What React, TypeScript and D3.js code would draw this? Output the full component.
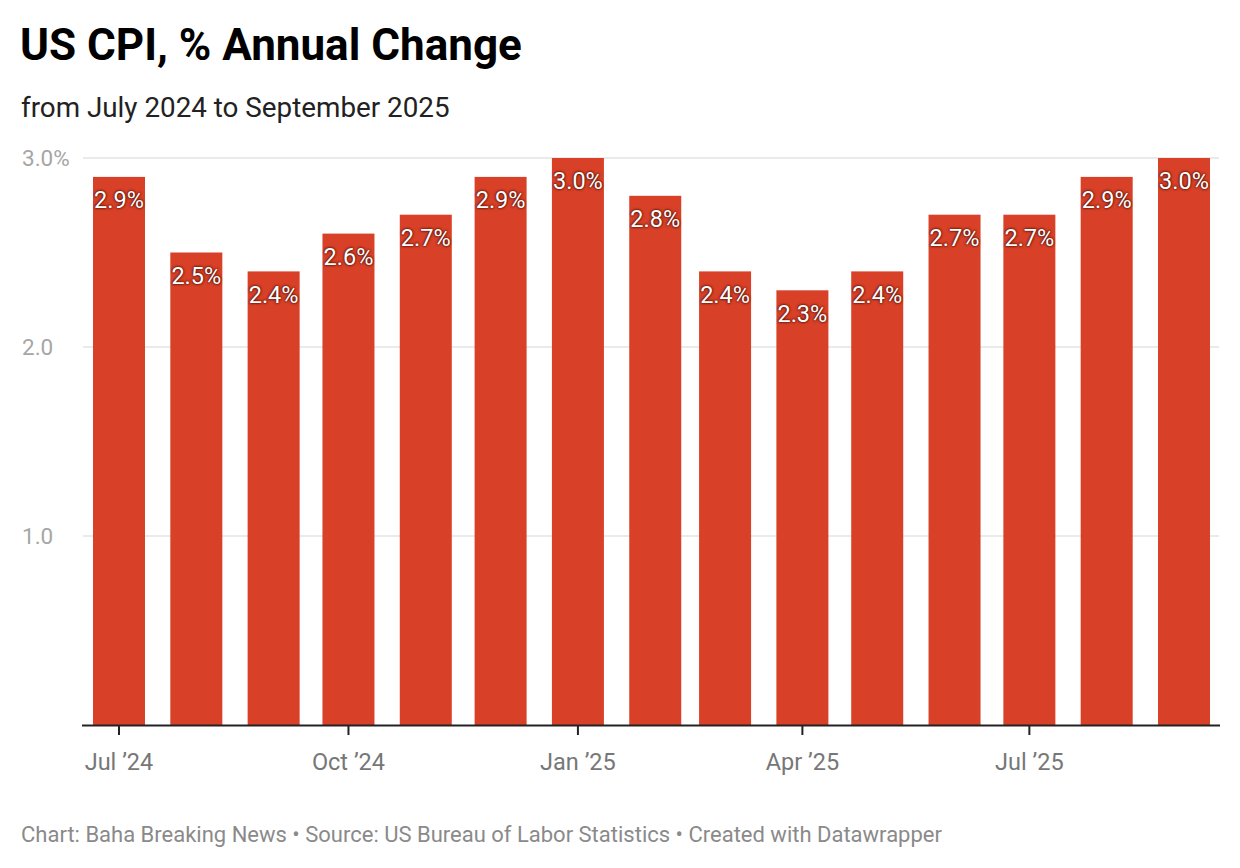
import React from "react";
import * as d3 from "d3";

const months: string[] = [
  "2024-07-01", "2024-08-01", "2024-09-01", "2024-10-01", "2024-11-01",
  "2024-12-01", "2025-01-01", "2025-02-01", "2025-03-01", "2025-04-01",
  "2025-05-01", "2025-06-01", "2025-07-01", "2025-08-01", "2025-09-01",
];
const cpi: number[] = [2.9, 2.5, 2.4, 2.6, 2.7, 2.9, 3.0, 2.8, 2.4, 2.3, 2.4, 2.7, 2.7, 2.9, 3.0];
const yTicks: number[] = [1, 2, 3];
const xTickDates: string[] = ["2024-07-01", "2024-10-01", "2025-01-01", "2025-04-01", "2025-07-01"];
const xTickLabels: string[] = ["Jul ’24", "Oct ’24", "Jan ’25", "Apr ’25", "Jul ’25"];

const W = 1240;
const H = 868;
const FONT = "Roboto, 'Noto Sans', sans-serif";

export default function App() {
  const parse = d3.utcParse("%Y-%m-%d");
  const dates = months.map((m) => parse(m) as Date);
  const x = d3
    .scaleUtc()
    .domain([dates[0], dates[dates.length - 1]])
    .range([119, 1184]);
  const y = d3.scaleLinear().domain([0, 3]).range([725, 158]);
  const barW = 52;

  return (
    <svg
      width={W}
      height={H}
      style={{ position: "fixed", left: 0, top: 0, background: "#fff", fontFamily: FONT }}
    >
      <text x={20} y={60} fontSize={44} fontWeight={700} fill="#000">
        US CPI, % Annual Change
      </text>
      <text x={21} y={116.5} fontSize={27.8} fill="#222">
        from July 2024 to September 2025
      </text>

      {yTicks.map((t) => (
        <g key={t}>
          <line x1={83} x2={1219} y1={y(t)} y2={y(t)} stroke="#e3e3e3" strokeWidth={1.5} />
          <text x={22} y={y(t)} dy="0.35em" fontSize={22.5} fill="#a6a6a6">
            {t.toFixed(1) + (t === 3 ? "%" : "")}
          </text>
        </g>
      ))}

      {cpi.map((v, i) => (
        <rect
          key={i}
          x={x(dates[i]) - barW / 2}
          y={y(v)}
          width={barW}
          height={y(0) - y(v)}
          fill="#d84027"
        />
      ))}

      {cpi.map((v, i) => (
        <text
          key={"l" + i}
          x={x(dates[i])}
          y={y(v) + 23}
          dy="0.35em"
          textAnchor="middle"
          fontSize={23.5}
          fill="#fff"
          style={{ textShadow: "0 0 3px rgba(60,10,0,0.9), 0 0 2px rgba(60,10,0,0.9)" }}
        >
          {v.toFixed(1) + "%"}
        </text>
      ))}

      <line x1={82} x2={1220} y1={725.5} y2={725.5} stroke="#222" strokeWidth={2} />
      {xTickDates.map((d, i) => {
        const xp = x(parse(d) as Date);
        return (
          <g key={d}>
            <line x1={xp} x2={xp} y1={726} y2={735} stroke="#222" strokeWidth={2} />
            <text x={xp} y={762} dy="0.35em" textAnchor="middle" fontSize={23.5} fill="#777">
              {xTickLabels[i]}
            </text>
          </g>
        );
      })}

      <text x={21} y={834} dy="0.35em" fontSize={22} fill="#8a8a8a">
        Chart: Baha Breaking News • Source: US Bureau of Labor Statistics • Created with Datawrapper
      </text>
    </svg>
  );
}
